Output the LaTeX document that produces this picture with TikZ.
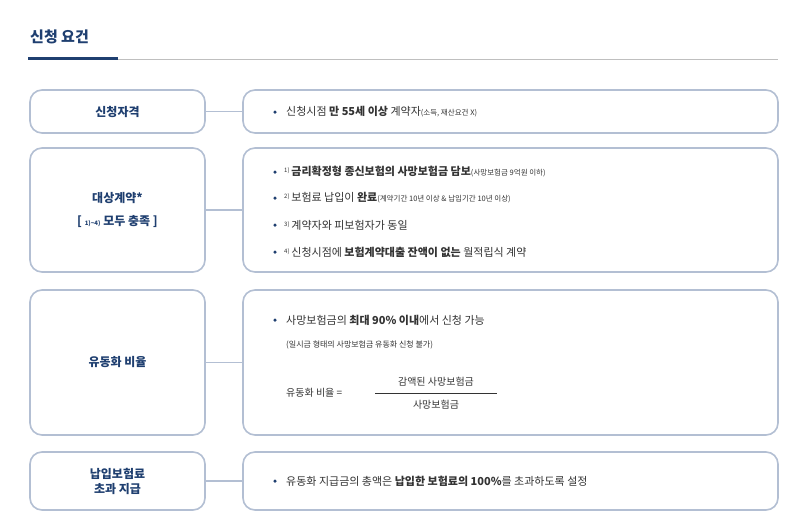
\documentclass[tikz,border=0pt]{standalone}
\usepackage{fontspec}
\setmainfont{Noto Sans CJK KR}
\newcommand\smf{\fontsize{7.5}{9}\selectfont}
\newcommand\supn[1]{\raisebox{0.5ex}{\fontsize{6}{7}\selectfont #1}\,}
\definecolor{navy}{HTML}{1F3F70}
\definecolor{bord}{HTML}{B3BFD3}
\definecolor{txt}{HTML}{333333}
\begin{document}
\begin{tikzpicture}[x=1pt,y=-1pt,
 box/.style={draw=bord,line width=1.6pt,rounded corners=12pt},
 lab/.style={text=navy,font=\fontsize{12}{15}\selectfont\bfseries,align=center},
 it/.style={text=txt,font=\fontsize{11}{13}\selectfont,anchor=west,inner sep=0pt},
 dot/.style={circle,fill=navy,inner sep=0pt,minimum size=3.5pt},
 con/.style={draw=bord,line width=1.4pt}]
\useasboundingbox (0,0) rectangle (800,531);
\fill[white] (0,0) rectangle (800,531);
\node[anchor=west,text=navy,font=\fontsize{15}{18}\selectfont\bfseries,inner sep=0pt] (title) at (30,37) {신청 요건};
\draw[gray!50,line width=0.8pt] (28,59) -- (778,59);
\draw[navy,line width=3pt] (28,58) -- (118,58);
% left boxes
\node[box,minimum width=175pt,minimum height=43pt] (l1) at (117.5,111.5) {};
\node[lab] at (l1) {신청자격};
\node[box,minimum width=175pt,minimum height=124pt] (l2) at (117.5,210) {};
\node[lab] at (117.5,198) {대상계약*};
\node[lab] at (117.5,222) {[ {\fontsize{6}{7}\selectfont 1)\textasciitilde4)} 모두 충족 ]};
\node[box,minimum width=175pt,minimum height=145pt] (l3) at (117.5,362.5) {};
\node[lab] at (l3) {유동화 비율};
\node[box,minimum width=175pt,minimum height=58pt] (l4) at (117.5,481) {};
\node[lab] at (l4) {납입보험료\\초과 지급};
% right boxes
\node[box,minimum width=535pt,minimum height=43pt] (r1) at (510.5,111.5) {};
\node[box,minimum width=535pt,minimum height=124pt] (r2) at (510.5,210) {};
\node[box,minimum width=535pt,minimum height=145pt] (r3) at (510.5,362.5) {};
\node[box,minimum width=535pt,minimum height=58pt] (r4) at (510.5,481) {};
\foreach \i in {1,2,3,4} \draw[con] (l\i.east) -- (r\i.west);
% row1
\node[dot] at (275,112) {};
\node[it] at (286,112) {신청시점 {\bfseries 만 55세 이상} 계약자{\smf(소득, 재산요건 X)}};
% row2
\foreach \y/\t in {172/{\supn{1)}{\bfseries 금리확정형 종신보험의 사망보험금 담보}{\smf(사망보험금 9억원 이하)}},
                  198/{\supn{2)}보험료 납입이 {\bfseries 완료}{\smf(계약기간 10년 이상 \& 납입기간 10년 이상)}},
                  225/{\supn{3)}계약자와 피보험자가 동일},
                  252/{\supn{4)}신청시점에 {\bfseries 보험계약대출 잔액이 없는} 월적립식 계약}}
 {\node[dot] at (275,\y) {}; \node[it] at (284,\y) {\t};}
% row3
\node[dot] at (275,320) {};
\node[it] at (286,320) {사망보험금의 {\bfseries 최대 90\% 이내}에서 신청 가능};
\node[it,text=txt,font=\fontsize{8}{10}\selectfont] at (286,345) {(일시금 형태의 사망보험금 유동화 신청 불가)};
\node[it,font=\fontsize{10}{12}\selectfont] (ratio) at (286,393) {유동화 비율 =};
\draw[txt,line width=0.7pt] (375,393) -- (497,393);
\node[text=txt,font=\fontsize{10}{12}\selectfont] (num) at (436,382) {감액된 사망보험금};
\node[text=txt,font=\fontsize{10}{12}\selectfont] (den) at (436,405) {사망보험금};
% row4
\node[dot] at (275,481) {};
\node[it] at (286,481) {유동화 지급금의 총액은 {\bfseries 납입한 보험료의 100\%}를 초과하도록 설정};
\end{tikzpicture}
\end{document}
